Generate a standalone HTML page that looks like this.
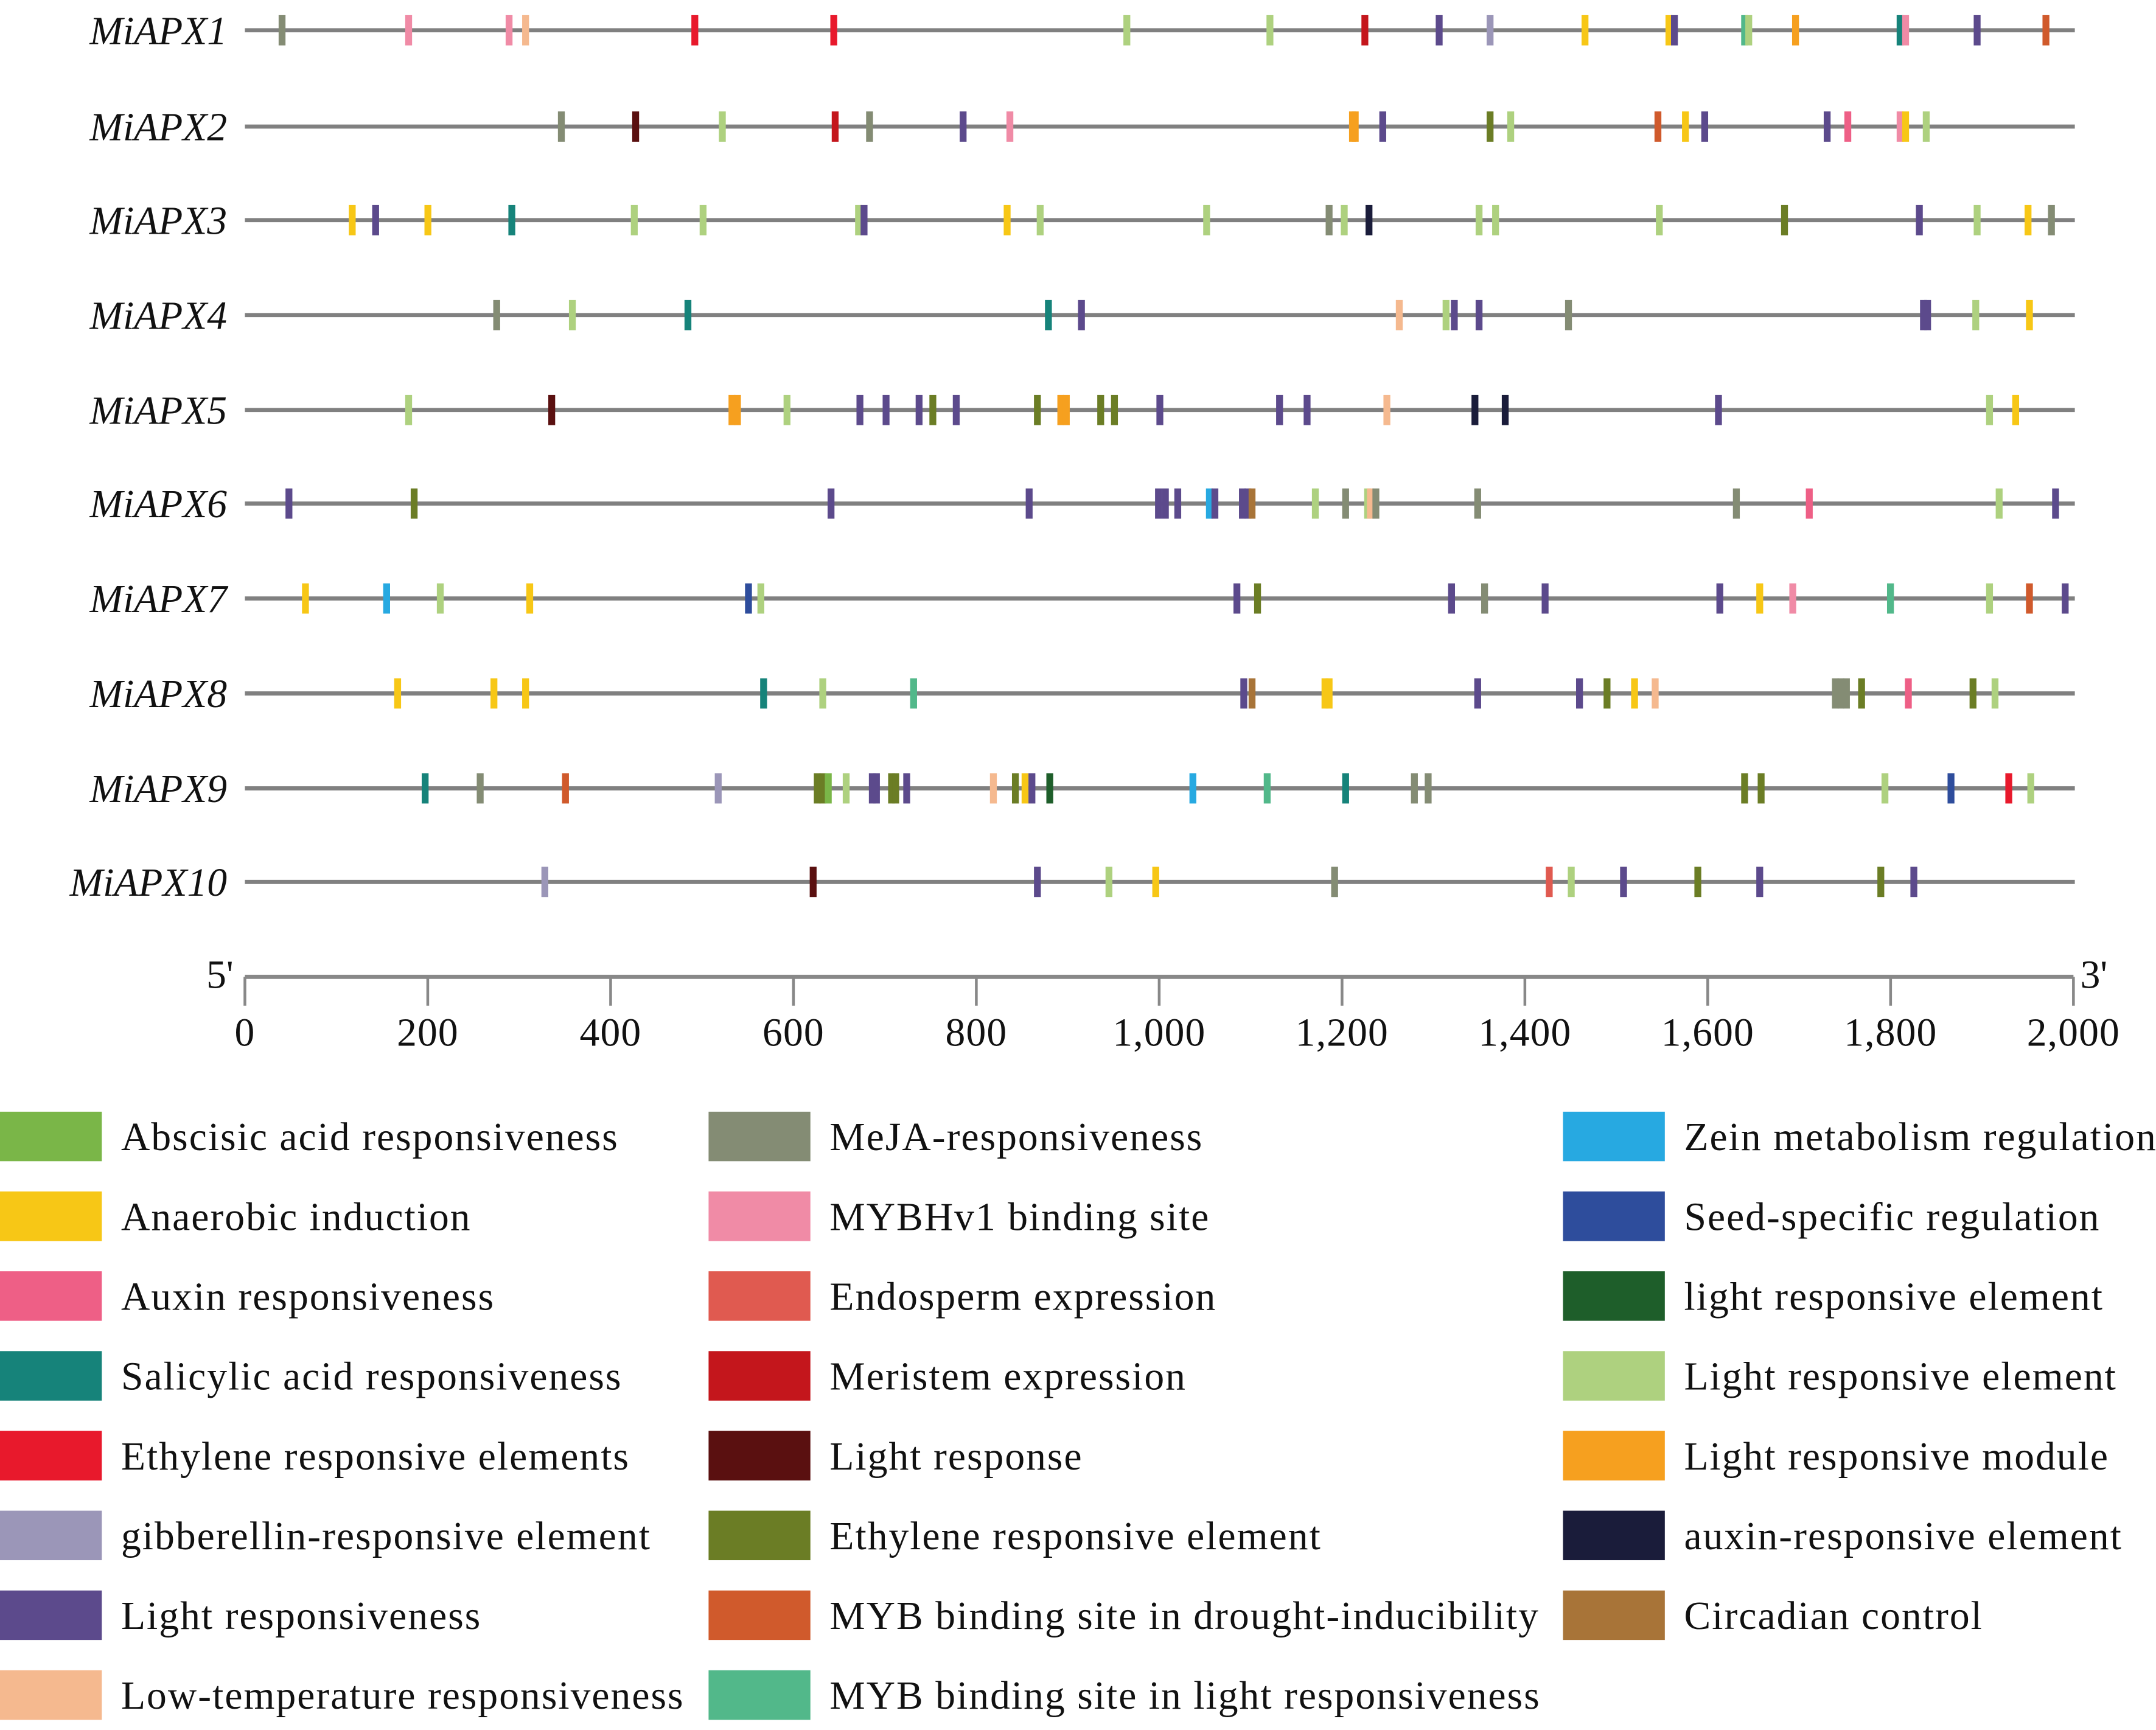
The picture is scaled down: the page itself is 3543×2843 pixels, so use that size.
<!DOCTYPE html>
<html><head><meta charset="utf-8"><style>
html,body{margin:0;padding:0;background:#fff}
svg{display:block}
text{font-family:"Liberation Serif",serif;fill:#111}
</style></head><body>
<svg id="s" width="3543" height="2843" viewBox="0 0 1567 1257.4" preserveAspectRatio="none" xmlns="http://www.w3.org/2000/svg">
<g id="rows"></g>
<g id="axis" stroke="#888" stroke-width="3" fill="none">
<line x1="178" y1="710" x2="1507" y2="710"/>
</g>
<text x="150" y="718" font-size="29">5'</text>
<text x="1512" y="718" font-size="29">3'</text>
<g id="ticks"></g>
<g id="legend"></g>
</svg>
<script>
var C={A:'#7ab648',Y:'#f7c716',X:'#ee5f86',S:'#16837a',E:'#e8192c',G:'#9b96b8',P:'#5c4a8c',T:'#f5b98f',M:'#848c74',H:'#f08ba6',N:'#e05a50',R:'#c4161c',B:'#5a1010',O:'#6b7d25',D:'#d05a2c',L:'#52b88a',Z:'#27a9e1',Q:'#2e4d9c',K:'#1e5e2a',W:'#aed17f',F:'#f6a01f',U:'#1a1c3a',Cc:'#a87438'};
var rows=[
["MiAPX1",22,"205M 297H 370H 382T 505E 606E 819W 923W 992R 1046P 1083G 1152Y 1213Y 1217P 1268L 1271W 1305F 1381S 1385H 1437P 1487D"],
["MiAPX2",92,"408M 462B 525W 607R 632M 700P 734H 983F 985F 1005P 1083O 1098W 1205D 1225Y 1239P 1328P 1343X 1381H 1385Y 1400W"],
["MiAPX3",160,"256Y 273P 311Y 372S 461W 511W 624W 628P 732Y 756W 877W 966M 977W 995U 1075W 1087W 1206W 1297O 1395P 1437W 1474Y 1491M"],
["MiAPX4",229,"361M 416W 500S 762S 786P 1017T 1051W 1057P 1075P 1140M 1398P 1401P 1436W 1475Y"],
["MiAPX5",298,"297W 401B 532F 536F 572W 625P 644P 668P 678O 695P 754O 771F 775F 800O 810O 843P 930P 950P 1008T 1072U 1094U 1249P 1446W 1465Y"],
["MiAPX6",366,"210P 301O 604P 748P 842P 847P 856P 879Z 883P 903P 907P 910Cc 956W 978M 994W 996T 1000M 1074M 1262M 1315X 1453W 1494P"],
["MiAPX7",435,"222Y 281Z 320W 385Y 544Q 553W 899P 914O 1055P 1079M 1123P 1250P 1279Y 1303H 1374L 1446W 1475D 1501P"],
["MiAPX8",504,"289Y 359Y 382Y 555S 598W 664L 904P 910Cc 963Y 966Y 1074P 1148P 1168O 1188Y 1203T 1334M 1338M 1342M 1353O 1387X 1434O 1450W"],
["MiAPX9",573,"309S 349M 411D 522G 594O 598O 602A 615W 634P 637P 648O 651O 659P 722T 738O 745Y 750P 763K 867Z 921L 978S 1028M 1038M 1268O 1280O 1370W 1418Q 1460E 1476W"],
["MiAPX10",641,"396G 591B 754P 806W 840Y 970M 1126N 1142W 1180P 1234O 1279P 1367O 1391P"]];
var h='';
rows.forEach(function(r){
 h+='<text x="165" y="'+(r[1]+10)+'" font-size="29" font-style="italic" text-anchor="end">'+r[0]+'</text>';
 h+='<line x1="178" y1="'+r[1]+'" x2="1508" y2="'+r[1]+'" stroke="#808080" stroke-width="3"/>';
 r[2].split(' ').forEach(function(t){var x=parseFloat(t),k=t.replace(/[0-9.]/g,'');
  h+='<rect x="'+(x-2.5)+'" y="'+(r[1]-11)+'" width="5" height="22" fill="'+C[k]+'"/>';});
});
document.getElementById('rows').innerHTML=h;
h='';
for(var i=0;i<=10;i++){var x=178+i*132.9;
 h+='<line x1="'+x+'" y1="710" x2="'+x+'" y2="731" stroke="#888" stroke-width="2"/>';
 var lb=(i*200).toString();if(lb.length>3)lb=lb[0]+','+lb.slice(1);
 h+='<text x="'+x+'" y="760" font-size="29" letter-spacing="0.5" text-anchor="middle">'+lb+'</text>';}
document.getElementById('ticks').innerHTML=h;
var L=[[0,[['A','Abscisic acid responsiveness'],['Y','Anaerobic induction'],['X','Auxin responsiveness'],['S','Salicylic acid responsiveness'],['E','Ethylene responsive elements'],['G','gibberellin-responsive element'],['P','Light responsiveness'],['T','Low-temperature responsiveness']]],
[515,[['M','MeJA-responsiveness'],['H','MYBHv1 binding site'],['N','Endosperm expression'],['R','Meristem expression'],['B','Light response'],['O','Ethylene responsive element'],['D','MYB binding site in drought-inducibility'],['L','MYB binding site in light responsiveness']]],
[1136,[['Z','Zein metabolism regulation'],['Q','Seed-specific regulation'],['K','light responsive element'],['W','Light responsive element'],['F','Light responsive module'],['U','auxin-responsive element'],['Cc','Circadian control']]]];
h='';
L.forEach(function(c){c[1].forEach(function(e,j){var y=826+j*58;
 h+='<rect x="'+c[0]+'" y="'+(y-18)+'" width="74" height="36" fill="'+C[e[0]]+'"/>';
 h+='<text x="'+(c[0]+88)+'" y="'+(y+10)+'" font-size="29" letter-spacing="0.9">'+e[1]+'</text>';});});
document.getElementById('legend').innerHTML=h;
</script>
</body></html>
